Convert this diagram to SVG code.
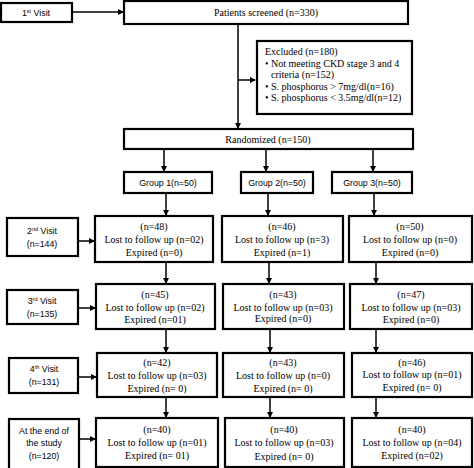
<svg xmlns="http://www.w3.org/2000/svg" width="474" height="468" viewBox="0 0 474 468">
<style>
.box{fill:#fff;stroke:#000;stroke-width:2.2}
.serif{font-family:"Liberation Serif","Times New Roman",serif;font-size:10px;fill:#000}
.sans{font-family:"Liberation Sans",Arial,sans-serif;font-size:8.8px;fill:#000}
.c{text-anchor:middle}
.ln{stroke:#000;stroke-width:1.5;fill:none}
</style>
<defs>
<marker id="ah" markerWidth="6" markerHeight="6" refX="5" refY="3" orient="auto" markerUnits="userSpaceOnUse">
<path d="M0,0 L6,3 L0,6 Z" fill="#000"/>
</marker>
</defs>
<rect width="474" height="468" fill="#fff"/>

<g id="connectors" class="ln" marker-end="url(#ah)">
<line x1="72" y1="12" x2="123" y2="12"/>
<polyline points="238,24 238,128" />
<line x1="238" y1="80" x2="255" y2="80"/>
<line x1="164" y1="149" x2="164" y2="171"/>
<line x1="266" y1="149" x2="266" y2="171"/>
<line x1="373" y1="149" x2="373" y2="171"/>
<line x1="166" y1="193" x2="166" y2="215"/>
<line x1="268" y1="193" x2="268" y2="215"/>
<line x1="374" y1="193" x2="374" y2="215"/>
<line x1="166" y1="262" x2="166" y2="283"/>
<line x1="269" y1="262" x2="269" y2="283"/>
<line x1="376" y1="262" x2="376" y2="283"/>
<line x1="166" y1="329" x2="166" y2="352"/>
<line x1="270" y1="329" x2="270" y2="352"/>
<line x1="376" y1="329" x2="376" y2="352"/>
<line x1="166" y1="397" x2="166" y2="417"/>
<line x1="270" y1="397" x2="270" y2="417"/>
<line x1="376" y1="397" x2="376" y2="417"/>
<line x1="78" y1="241" x2="94" y2="241"/>
<line x1="78" y1="308" x2="95" y2="308"/>
<line x1="78" y1="377" x2="96" y2="377"/>
<line x1="79" y1="439" x2="95" y2="439"/>
</g>

<g id="visit1">
<rect class="box" x="1" y="3" width="71" height="19"/>
<text class="sans c" x="36" y="15.5">1<tspan font-size="5.5" dy="-3">st</tspan><tspan dy="3"> Visit</tspan></text>
</g>
<g id="screened">
<rect class="box" x="124" y="1" width="284" height="23"/>
<text class="serif c" x="266" y="16" font-size="10.5">Patients screened (n=330)</text>
</g>
<g id="excluded">
<rect class="box" x="257" y="41" width="155" height="73"/>
<text class="serif" x="265" y="55">Excluded (n=180)</text>
<text class="serif" x="265" y="67">•</text><text class="serif" x="271" y="67">Not meeting CKD stage 3 and 4</text>
<text class="serif" x="271" y="78">criteria (n=152)</text>
<text class="serif" x="265" y="90">•</text><text class="serif" x="271" y="90">S. phosphorus &gt; 7mg/dl(n=16)</text>
<text class="serif" x="265" y="101">•</text><text class="serif" x="271" y="101">S. phosphorus &lt; 3.5mg/dl(n=12)</text>
</g>
<g id="randomized">
<rect class="box" x="124" y="129" width="289" height="20"/>
<text class="serif c" x="268" y="142.5" font-size="10.5">Randomized (n=150)</text>
</g>
<g id="group1">
<rect class="box" x="124" y="172" width="88" height="21"/>
<text class="sans c" x="168" y="185.5">Group 1(n=50)</text>
</g>
<g id="group2">
<rect class="box" x="241" y="172" width="72" height="21"/>
<text class="sans c" x="277" y="185.5">Group 2(n=50)</text>
</g>
<g id="group3">
<rect class="box" x="332" y="172" width="80" height="21"/>
<text class="sans c" x="372" y="185.5">Group 3(n=50)</text>
</g>

<g id="visit2">
<rect class="box" x="7" y="218" width="71" height="38"/>
<text class="sans c" x="42" y="234">2<tspan font-size="5.5" dy="-3">nd</tspan><tspan dy="3"> Visit</tspan></text>
<text class="sans c" x="42" y="247">(n=144)</text>
</g>
<g id="r2g1">
<rect class="box" x="95" y="216" width="118" height="46"/>
<text class="serif c" x="154" y="230">(n=48)</text>
<text class="serif c" x="154" y="243">Lost to follow up (n=02)</text>
<text class="serif c" x="154" y="255.5">Expired (n=0)</text>
</g>
<g id="r2g2">
<rect class="box" x="222" y="216" width="121" height="46"/>
<text class="serif c" x="282" y="230">(n=46)</text>
<text class="serif c" x="282" y="243">Lost to follow up (n=3)</text>
<text class="serif c" x="282" y="255.5">Expired (n=1)</text>
</g>
<g id="r2g3">
<rect class="box" x="349" y="216" width="123" height="46"/>
<text class="serif c" x="410" y="230">(n=50)</text>
<text class="serif c" x="410" y="243">Lost to follow up (n=0)</text>
<text class="serif c" x="410" y="255.5">Expired (n=0)</text>
</g>

<g id="visit3">
<rect class="box" x="7" y="290" width="71" height="34"/>
<text class="sans c" x="42" y="304">3<tspan font-size="5.5" dy="-3">rd</tspan><tspan dy="3"> Visit</tspan></text>
<text class="sans c" x="42" y="317">(n=135)</text>
</g>
<g id="r3g1">
<rect class="box" x="96" y="284" width="119" height="45"/>
<text class="serif c" x="155" y="297.5">(n=45)</text>
<text class="serif c" x="155" y="310.5">Lost to follow up (n=02)</text>
<text class="serif c" x="155" y="323">Expired (n=01)</text>
</g>
<g id="r3g2">
<rect class="box" x="223" y="284" width="121" height="45"/>
<text class="serif c" x="283" y="297.5">(n=43)</text>
<text class="serif c" x="283" y="310.5">Lost to follow up (n=03)</text>
<text class="serif c" x="283" y="322">Expired (n=0)</text>
</g>
<g id="r3g3">
<rect class="box" x="350" y="284" width="122" height="45"/>
<text class="serif c" x="411" y="297.5">(n=47)</text>
<text class="serif c" x="411" y="310.5">Lost to follow up (n=03)</text>
<text class="serif c" x="411" y="323">Expired (n=0)</text>
</g>

<g id="visit4">
<rect class="box" x="9" y="358" width="69" height="35"/>
<text class="sans c" x="44" y="372">4<tspan font-size="5.5" dy="-3">th</tspan><tspan dy="3"> Visit</tspan></text>
<text class="sans c" x="44" y="385">(n=131)</text>
</g>
<g id="r4g1">
<rect class="box" x="97" y="353" width="120" height="44"/>
<text class="serif c" x="157" y="366">(n=42)</text>
<text class="serif c" x="157" y="379">Lost to follow up (n=03)</text>
<text class="serif c" x="157" y="391.5">Expired (n= 0)</text>
</g>
<g id="r4g2">
<rect class="box" x="223" y="353" width="121" height="44"/>
<text class="serif c" x="283" y="366">(n=43)</text>
<text class="serif c" x="283" y="379">Lost to follow up (n=0)</text>
<text class="serif c" x="283" y="391.5">Expired (n= 0)</text>
</g>
<g id="r4g3">
<rect class="box" x="352" y="353" width="120" height="44"/>
<text class="serif c" x="412" y="366">(n=46)</text>
<text class="serif c" x="412" y="378">Lost to follow up (n=01)</text>
<text class="serif c" x="412" y="390.5">Expired (n= 0)</text>
</g>

<g id="end">
<rect class="box" x="9" y="419" width="70" height="52"/>
<text class="sans c" x="44" y="434">At the end of</text>
<text class="sans c" x="44" y="446">the study</text>
<text class="sans c" x="44" y="458.5">(n=120)</text>
</g>
<g id="r5g1">
<rect class="box" x="96" y="418" width="122" height="49"/>
<text class="serif c" x="157" y="433">(n=40)</text>
<text class="serif c" x="157" y="446">Lost to follow up (n=01)</text>
<text class="serif c" x="157" y="459">Expired (n= 01)</text>
</g>
<g id="r5g2">
<rect class="box" x="225" y="418" width="119" height="49"/>
<text class="serif c" x="284" y="433">(n=40)</text>
<text class="serif c" x="284" y="446">Lost to follow up (n=03)</text>
<text class="serif c" x="284" y="460">Expired (n= 0)</text>
</g>
<g id="r5g3">
<rect class="box" x="352" y="418" width="120" height="49"/>
<text class="serif c" x="412" y="433">(n=40)</text>
<text class="serif c" x="412" y="446">Lost to follow up (n=04)</text>
<text class="serif c" x="412" y="459">Expired (n=02)</text>
</g>
</svg>
